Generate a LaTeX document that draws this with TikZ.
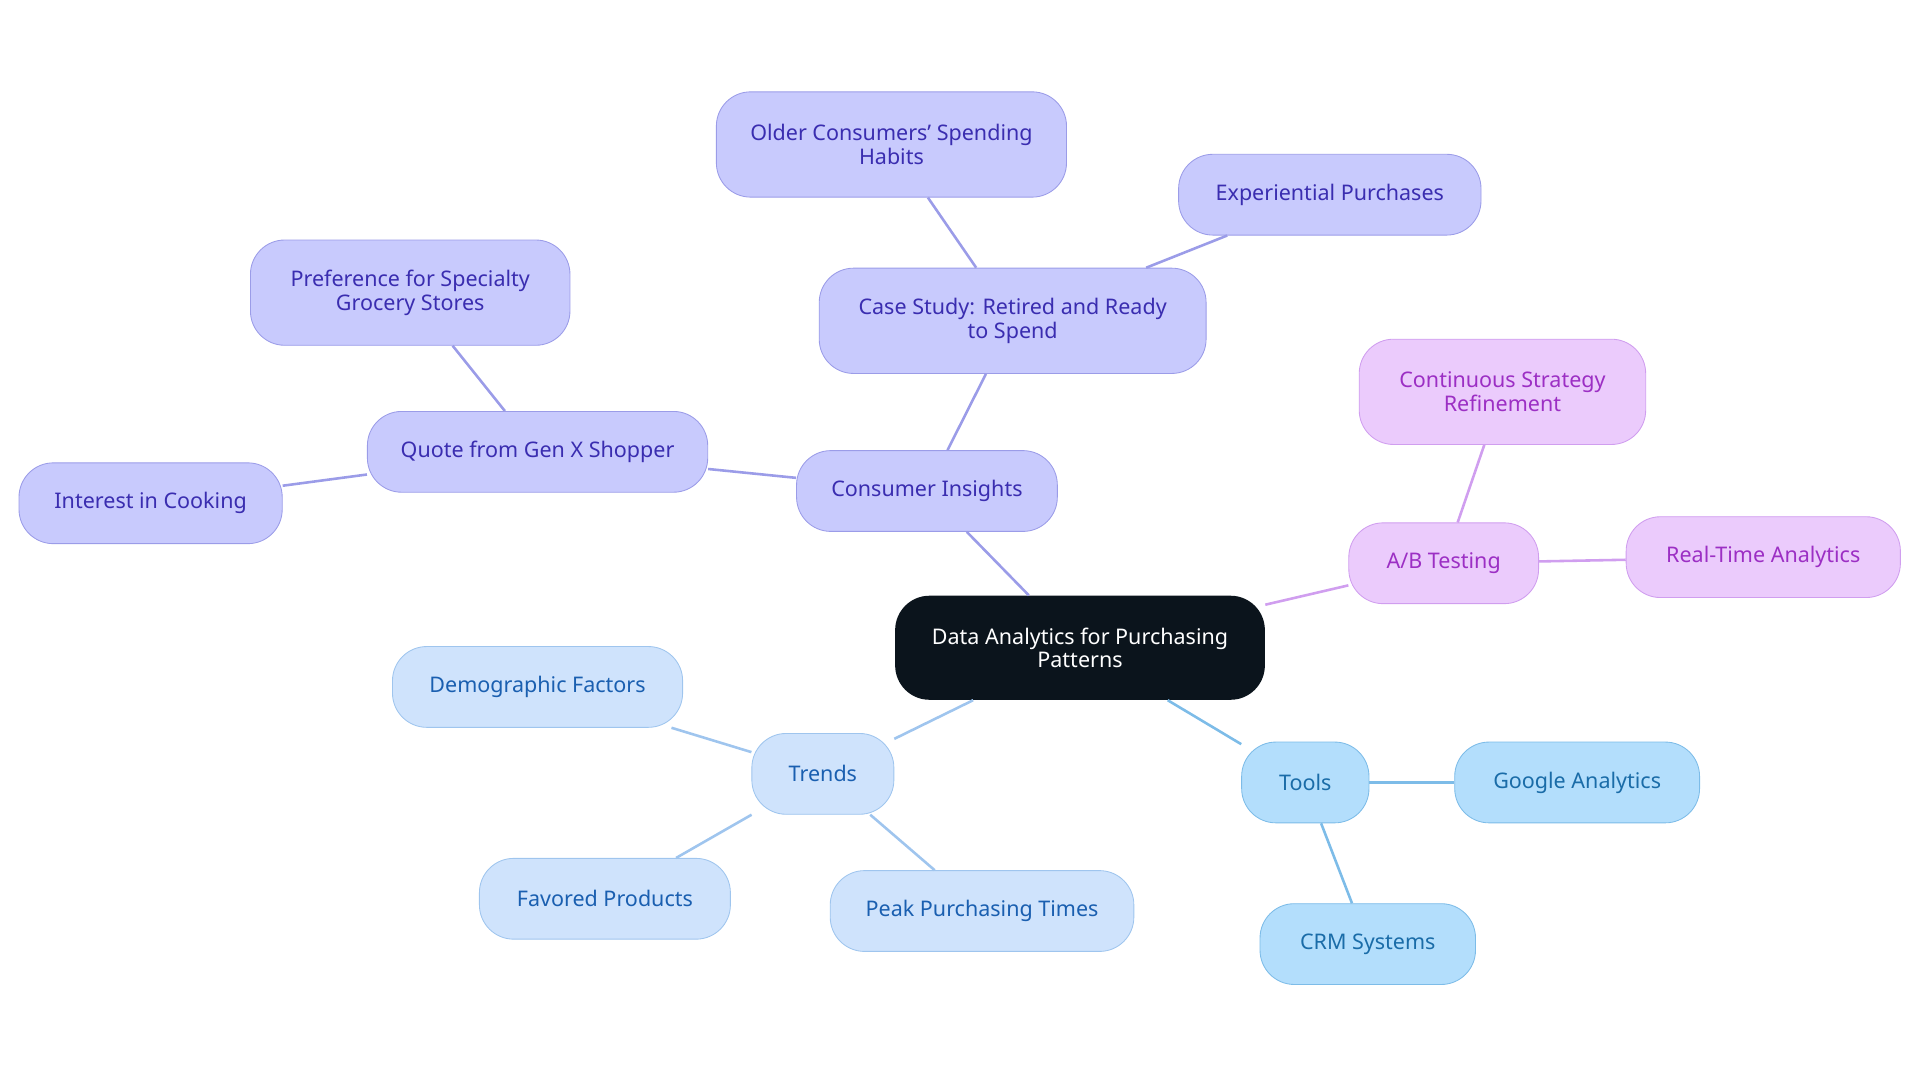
\documentclass[tikz,border=0pt]{standalone}
\usepackage{fontspec}
\setmainfont{Noto Sans}
\definecolor{ciFill}{HTML}{C8CAFD}\definecolor{ciLine}{HTML}{9B9CE8}\definecolor{ciText}{HTML}{3A2DB0}
\definecolor{abFill}{HTML}{EBCBFC}\definecolor{abLine}{HTML}{D09EEF}\definecolor{abText}{HTML}{9C2FC4}
\definecolor{trFill}{HTML}{CFE3FC}\definecolor{trLine}{HTML}{9FC5EE}\definecolor{trText}{HTML}{1A5FB0}
\definecolor{toFill}{HTML}{B3DEFC}\definecolor{toLine}{HTML}{7DBCE8}\definecolor{toText}{HTML}{1A6CA8}
\definecolor{rootFill}{HTML}{0B141C}
\tikzset{
  box/.style={rounded corners=0.56cm, align=center, font=\fontsize{10}{11}\selectfont, minimum height=1.32cm, inner sep=2pt},
  ci/.style={box, fill=ciFill, draw=ciLine, text=ciText},
  ab/.style={box, fill=abFill, draw=abLine, text=abText},
  tr/.style={box, fill=trFill, draw=trLine, text=trText},
  to/.style={box, fill=toFill, draw=toLine, text=toText},
}
\begin{document}
\begin{tikzpicture}[x=0.02cm,y=-0.02cm]
				\useasboundingbox (0,0) rectangle (1568,884);
				\node[box, fill=rootFill, text=white, minimum width=6.04cm, minimum height=1.7cm] (R) at (882,529) {Data Analytics for Purchasing\\Patterns};
				\node[ci, minimum width=4.26cm] (CI) at (757,401) {Consumer Insights};
				\node[ci, minimum width=5.56cm] (Q) at (439,369) {Quote from Gen X Shopper};
				\node[ci, minimum width=5.22cm, minimum height=1.72cm] (P) at (335,239) {Preference for Specialty\\Grocery Stores};
				\node[ci, minimum width=4.3cm] (IC) at (123,411) {Interest in Cooking};
				\node[ci, minimum width=6.32cm, minimum height=1.72cm] (CS) at (827,262) {Case Study: Retired and Ready\\to Spend};
				\node[ci, minimum width=5.72cm, minimum height=1.72cm] (O) at (728,118) {Older Consumers' Spending\\Habits};
				\node[ci, minimum width=4.94cm] (EP) at (1086,159) {Experiential Purchases};
				\node[ab, minimum width=3.1cm] (AB) at (1179,460) {A/B Testing};
				\node[ab, minimum width=4.68cm, minimum height=1.72cm] (CR) at (1227,320) {Continuous Strategy\\Refinement};
				\node[ab, minimum width=4.48cm] (RT) at (1440,455) {Real-Time Analytics};
				\node[to, minimum width=2.08cm] (T) at (1066,639) {Tools};
				\node[to, minimum width=4cm] (GA) at (1288,639) {Google Analytics};
				\node[to, minimum width=3.52cm] (CRM) at (1117,771) {CRM Systems};
				\node[tr, minimum width=2.32cm] (TR) at (672,632) {Trends};
				\node[tr, minimum width=4.74cm] (DF) at (439,561) {Demographic Factors};
				\node[tr, minimum width=4.1cm] (FP) at (494,734) {Favored Products};
				\node[tr, minimum width=4.96cm] (PT) at (802,744) {Peak Purchasing Times};

				\path [draw=ciLine, line width=1.2pt] (R) edge (CI) (CI) edge (Q) (Q) edge (P) (Q) edge (IC) (CI) edge (CS) (CS) edge (O) (CS) edge (EP);
				\path [draw=abLine, line width=1.2pt] (R) edge (AB) (AB) edge (CR) (AB) edge (RT);
				\path [draw=toLine, line width=1.2pt] (R) edge (T) (T) edge (GA) (T) edge (CRM);
				\path [draw=trLine, line width=1.2pt] (R) edge (TR) (TR) edge (DF) (TR) edge (FP) (TR) edge (PT);
\end{tikzpicture}
\end{document}
